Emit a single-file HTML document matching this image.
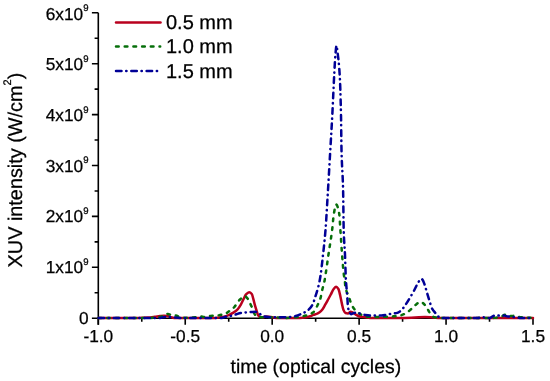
<!DOCTYPE html>
<html><head><meta charset="utf-8">
<style>
html,body{margin:0;padding:0;background:#fff;}
body{width:550px;height:381px;overflow:hidden;}
svg{display:block;}
text{font-family:"Liberation Sans",Arial,sans-serif;fill:#000;stroke:#000;stroke-width:0.25px;text-rendering:geometricPrecision;}
.tl{font-size:17.3px;}
.sup{font-size:9.6px;}
.ti{font-size:19.85px;}
.lg{font-size:20px;}
</style></head><body>
<svg width="550" height="381" viewBox="0 0 550 381">
<g fill="none" stroke="#000" stroke-width="1.6">
<path d="M98.3,12.8V324.8M98.3,318.2H533"/>
<path d="M91.9,318.20H98.3M91.9,267.30H98.3M91.9,216.40H98.3M91.9,165.50H98.3M91.9,114.60H98.3M91.9,63.70H98.3M91.9,12.80H98.3M94.6,292.75H98.3M94.6,241.85H98.3M94.6,190.95H98.3M94.6,140.05H98.3M94.6,89.15H98.3M94.6,38.25H98.3M98.30,318.2V324.8M185.24,318.2V324.8M272.18,318.2V324.8M359.12,318.2V324.8M446.06,318.2V324.8M533.00,318.2V324.8M141.77,318.2V321.7M228.71,318.2V321.7M315.65,318.2V321.7M402.59,318.2V321.7M489.53,318.2V321.7"/>
</g>
<g class="tl">
<text x="88.5" y="323.60" text-anchor="end">0</text>
<text x="88.5" y="272.95" text-anchor="end">1x10<tspan class="sup" dy="-8.4">9</tspan></text>
<text x="88.5" y="222.30" text-anchor="end">2x10<tspan class="sup" dy="-8.4">9</tspan></text>
<text x="88.5" y="171.65" text-anchor="end">3x10<tspan class="sup" dy="-8.4">9</tspan></text>
<text x="88.5" y="121.00" text-anchor="end">4x10<tspan class="sup" dy="-8.4">9</tspan></text>
<text x="88.5" y="70.35" text-anchor="end">5x10<tspan class="sup" dy="-8.4">9</tspan></text>
<text x="88.5" y="19.70" text-anchor="end">6x10<tspan class="sup" dy="-8.4">9</tspan></text>
<text x="98.30" y="341.8" text-anchor="middle">-1.0</text>
<text x="185.24" y="341.8" text-anchor="middle">-0.5</text>
<text x="272.18" y="341.8" text-anchor="middle">0.0</text>
<text x="359.12" y="341.8" text-anchor="middle">0.5</text>
<text x="446.06" y="341.8" text-anchor="middle">1.0</text>
<text x="533.00" y="341.8" text-anchor="middle">1.5</text>
</g>
<text class="ti" x="230.5" y="372.5" style="font-size:19.45px">time (optical cycles)</text>
<text class="ti" transform="translate(21.8,267.4) rotate(-90)">XUV intensity (W/cm<tspan dy="-10.4" style="font-size:11px">2</tspan><tspan dy="10.4">)</tspan></text>
<g fill="none" stroke-width="2.5" stroke-linejoin="round" stroke-linecap="round">
<path stroke="#b9001e" d="M98.50,317.90 C111.67,317.90 124.83,317.90 138.00,317.90 C141.33,317.90 144.67,317.70 148.00,317.50 C150.33,317.36 152.67,317.00 155.00,316.70 C156.67,316.49 158.33,316.16 160.00,316.00 C161.33,315.87 162.67,315.70 164.00,315.70 C165.17,315.70 166.33,315.84 167.50,316.00 C168.67,316.16 169.83,316.76 171.00,317.10 C172.00,317.39 173.00,317.90 174.00,317.90 C187.67,317.90 201.33,317.90 215.00,317.90 C217.00,317.90 219.00,317.50 221.00,317.20 C222.33,317.00 223.67,316.75 225.00,316.40 C226.40,316.03 227.80,315.42 229.20,314.80 C230.60,314.18 232.00,313.47 233.40,312.60 C234.80,311.73 236.20,310.82 237.60,309.40 C238.63,308.35 239.67,306.66 240.70,304.90 C241.60,303.37 242.50,301.18 243.40,299.40 C244.27,297.69 245.13,295.31 246.00,294.40 C247.03,293.31 248.07,292.20 249.10,292.20 C250.00,292.20 250.90,292.94 251.80,294.00 C252.30,294.59 252.80,297.12 253.30,298.90 C253.83,300.80 254.37,303.30 254.90,305.20 C255.43,307.10 255.97,308.77 256.50,310.40 C257.03,312.03 257.57,314.14 258.10,315.00 C258.67,315.92 259.23,316.72 259.80,316.90 C260.53,317.14 261.27,317.30 262.00,317.30 C263.33,317.30 264.67,316.60 266.00,316.60 C267.67,316.60 269.33,316.75 271.00,316.90 C272.67,317.05 274.33,317.90 276.00,317.90 C284.00,317.90 292.00,317.90 300.00,317.90 C302.07,317.90 304.13,317.60 306.20,317.30 C307.47,317.11 308.73,316.71 310.00,316.30 C311.13,315.93 312.27,315.30 313.40,314.90 C314.50,314.52 315.60,314.33 316.70,313.90 C317.67,313.52 318.63,313.00 319.60,312.30 C320.53,311.63 321.47,310.60 322.40,309.40 C323.33,308.20 324.27,306.32 325.20,304.70 C326.17,303.02 327.13,301.26 328.10,299.50 C329.03,297.80 329.97,296.05 330.90,294.30 C331.83,292.55 332.77,290.14 333.70,289.00 C334.50,288.02 335.30,286.80 336.10,286.80 C336.87,286.80 337.63,287.81 338.40,289.00 C339.03,289.98 339.67,293.36 340.30,296.00 C340.87,298.36 341.43,301.66 342.00,304.10 C342.50,306.25 343.00,308.89 343.50,310.00 C344.17,311.48 344.83,312.80 345.50,313.00 C346.33,313.25 347.17,313.40 348.00,313.40 C348.87,313.40 349.73,311.70 350.60,311.70 C351.37,311.70 352.13,312.22 352.90,312.60 C353.87,313.08 354.83,314.04 355.80,314.60 C356.87,315.22 357.93,315.91 359.00,316.20 C361.10,316.77 363.20,316.99 365.30,317.30 C366.87,317.53 368.43,317.90 370.00,317.90 C380.00,317.90 390.00,317.90 400.00,317.90 C405.00,317.90 410.00,317.66 415.00,317.50 C418.33,317.39 421.67,317.10 425.00,317.10 C427.67,317.10 430.33,317.36 433.00,317.50 C435.33,317.62 437.67,317.90 440.00,317.90 C471.00,317.90 502.00,317.90 533.00,317.90"/>
<path stroke="#066f0a" stroke-dasharray="2.7 6" d="M98.50,317.90 C115.67,317.90 132.83,317.90 150.00,317.90 C153.33,317.90 156.67,317.55 160.00,317.00 C161.67,316.72 163.33,314.96 165.00,314.50 C166.00,314.22 167.00,313.90 168.00,313.90 C169.00,313.90 170.00,314.66 171.00,315.00 C171.83,315.28 172.67,315.80 173.50,315.80 C174.33,315.80 175.17,315.50 176.00,315.50 C177.00,315.50 178.00,316.53 179.00,316.80 C181.00,317.34 183.00,317.90 185.00,317.90 C188.33,317.90 191.67,317.54 195.00,317.20 C196.67,317.03 198.33,316.40 200.00,316.40 C201.67,316.40 203.33,317.00 205.00,317.00 C206.83,317.00 208.67,316.19 210.50,316.00 C212.90,315.75 215.30,315.77 217.70,315.50 C218.80,315.38 219.90,315.06 221.00,314.80 C222.67,314.40 224.33,314.08 226.00,313.40 C227.40,312.83 228.80,311.46 230.20,310.40 C231.60,309.34 233.00,308.51 234.40,307.00 C235.37,305.96 236.33,303.83 237.30,302.60 C238.30,301.32 239.30,300.15 240.30,299.30 C241.83,298.00 243.37,296.20 244.90,296.20 C246.00,296.20 247.10,297.90 248.20,299.40 C248.80,300.22 249.40,301.81 250.00,303.10 C250.77,304.75 251.53,306.43 252.30,308.30 C252.83,309.60 253.37,311.36 253.90,312.50 C254.40,313.57 254.90,314.68 255.40,315.20 C256.10,315.93 256.80,316.44 257.50,316.70 C258.33,317.00 259.17,317.30 260.00,317.30 C263.33,317.30 266.67,317.30 270.00,317.30 C275.00,317.30 280.00,317.90 285.00,317.90 C288.57,317.90 292.13,317.60 295.70,317.30 C298.17,317.09 300.63,316.70 303.10,316.20 C305.20,315.78 307.30,315.10 309.40,314.30 C310.57,313.86 311.73,313.45 312.90,312.60 C314.17,311.68 315.43,309.25 316.70,307.00 C317.40,305.76 318.10,304.15 318.80,302.50 C319.37,301.17 319.93,299.97 320.50,298.10 C321.13,296.01 321.77,291.96 322.40,289.30 C323.03,286.64 323.67,284.98 324.30,282.00 C324.70,280.12 325.10,277.50 325.50,275.00 C326.47,268.96 327.43,261.59 328.40,255.00 C329.63,246.59 330.87,239.84 332.10,230.10 C332.70,225.36 333.30,216.95 333.90,213.60 C334.67,209.33 335.43,204.60 336.20,204.60 C337.20,204.60 338.20,208.18 339.20,213.60 C339.60,215.77 340.00,224.44 340.40,230.10 C340.97,238.12 341.53,247.83 342.10,255.00 C342.70,262.59 343.30,270.71 343.90,275.00 C344.20,277.14 344.50,277.60 344.80,280.00 C344.97,281.33 345.13,285.23 345.30,286.30 C345.80,289.51 346.30,290.56 346.80,292.00 C347.37,293.63 347.93,294.45 348.50,295.90 C349.20,297.69 349.90,300.31 350.60,302.00 C351.63,304.50 352.67,306.91 353.70,308.30 C354.77,309.73 355.83,310.59 356.90,311.50 C358.30,312.70 359.70,313.94 361.10,314.60 C363.20,315.59 365.30,316.51 367.40,316.70 C369.33,316.87 371.27,317.00 373.20,317.00 C377.73,317.00 382.27,316.92 386.80,316.80 C389.20,316.74 391.60,316.51 394.00,316.30 C395.93,316.13 397.87,315.96 399.80,315.60 C401.90,315.21 404.00,314.22 406.10,313.10 C407.77,312.21 409.43,310.62 411.10,309.20 C412.80,307.75 414.50,305.64 416.20,304.40 C417.63,303.35 419.07,301.80 420.50,301.80 C422.10,301.80 423.70,303.71 425.30,305.40 C426.33,306.49 427.37,308.84 428.40,310.50 C429.47,312.21 430.53,314.60 431.60,315.50 C432.57,316.32 433.53,316.98 434.50,317.20 C436.33,317.61 438.17,317.90 440.00,317.90 C457.67,317.90 475.33,317.90 493.00,317.90 C495.67,317.90 498.33,317.41 501.00,316.80 C502.33,316.49 503.67,314.95 505.00,314.80 C506.00,314.69 507.00,314.60 508.00,314.60 C509.00,314.60 510.00,316.00 511.00,316.00 C512.33,316.00 513.67,315.80 515.00,315.80 C516.33,315.80 517.67,316.84 519.00,317.00 C523.67,317.56 528.33,317.60 533.00,317.90"/>
<path stroke="#000096" stroke-dasharray="5.5 4.7 0.3 4.8" d="M98.50,317.90 C119.00,317.90 139.50,317.90 160.00,317.90 C161.67,317.90 163.33,316.90 165.00,316.90 C166.67,316.90 168.33,316.95 170.00,317.00 C173.33,317.10 176.67,317.90 180.00,317.90 C194.00,317.90 208.00,317.90 222.00,317.90 C223.00,317.90 224.00,317.13 225.00,316.90 C226.73,316.49 228.47,316.36 230.20,316.00 C231.97,315.63 233.73,315.10 235.50,314.60 C237.23,314.11 238.97,313.29 240.70,313.00 C242.47,312.71 244.23,312.56 246.00,312.40 C247.73,312.24 249.47,312.10 251.20,312.00 C252.60,311.92 254.00,311.80 255.40,311.80 C256.47,311.80 257.53,312.24 258.60,312.70 C259.47,313.08 260.33,314.39 261.20,315.00 C261.87,315.47 262.53,316.01 263.20,316.20 C265.00,316.71 266.80,317.03 268.60,317.10 C271.63,317.23 274.67,317.30 277.70,317.30 C281.33,317.30 284.97,317.23 288.60,317.10 C290.97,317.02 293.33,316.52 295.70,316.00 C297.47,315.61 299.23,314.84 301.00,314.10 C302.40,313.51 303.80,312.83 305.20,312.00 C306.60,311.17 308.00,310.28 309.40,308.90 C310.57,307.75 311.73,306.21 312.90,303.90 C313.70,302.32 314.50,299.16 315.30,296.70 C316.10,294.24 316.90,292.02 317.70,289.10 C318.33,286.79 318.97,284.21 319.60,281.00 C319.93,279.31 320.27,277.27 320.60,275.00 C321.40,269.54 322.20,262.27 323.00,255.00 C323.83,247.43 324.67,240.31 325.50,230.00 C326.13,222.16 326.77,210.41 327.40,200.00 C328.37,184.11 329.33,166.80 330.30,150.00 C330.97,138.41 331.63,127.75 332.30,115.00 C332.93,102.89 333.57,86.68 334.20,75.00 C334.60,67.62 335.00,59.50 335.40,55.00 C335.77,50.88 336.13,45.60 336.50,45.60 C336.83,45.60 337.17,49.43 337.50,52.00 C338.23,57.65 338.97,63.05 339.70,75.00 C340.13,82.06 340.57,95.34 341.00,115.00 C341.17,122.56 341.33,143.31 341.50,150.00 C342.03,171.42 342.57,169.17 343.10,190.00 C343.30,197.81 343.50,223.60 343.70,230.00 C344.13,243.88 344.57,245.04 345.00,255.00 C345.30,261.89 345.60,274.98 345.90,280.00 C346.07,282.79 346.23,284.20 346.40,286.30 C346.73,290.50 347.07,294.46 347.40,298.90 C347.60,301.56 347.80,306.12 348.00,307.30 C348.50,310.25 349.00,311.42 349.50,312.30 C350.03,313.24 350.57,314.20 351.10,314.20 C351.80,314.20 352.50,313.51 353.20,313.30 C354.07,313.04 354.93,312.70 355.80,312.70 C357.20,312.70 358.60,313.27 360.00,313.60 C361.77,314.02 363.53,314.78 365.30,315.00 C367.40,315.26 369.50,315.50 371.60,315.50 C374.87,315.50 378.13,315.50 381.40,315.50 C383.50,315.50 385.60,314.86 387.70,314.50 C389.33,314.22 390.97,313.85 392.60,313.60 C393.83,313.41 395.07,313.36 396.30,313.10 C397.77,312.79 399.23,311.95 400.70,310.90 C402.17,309.85 403.63,307.44 405.10,305.40 C406.57,303.36 408.03,300.91 409.50,298.50 C410.97,296.09 412.43,293.59 413.90,290.90 C415.37,288.21 416.83,284.59 418.30,282.30 C418.97,281.26 419.63,280.18 420.30,279.60 C420.70,279.25 421.10,278.80 421.50,278.80 C421.90,278.80 422.30,279.45 422.70,280.00 C423.33,280.87 423.97,282.83 424.60,284.60 C425.47,287.03 426.33,290.51 427.20,293.40 C428.03,296.18 428.87,298.92 429.70,301.60 C430.33,303.64 430.97,306.29 431.60,307.60 C432.80,310.07 434.00,311.26 435.20,312.80 C436.30,314.21 437.40,315.98 438.50,316.60 C439.67,317.26 440.83,317.90 442.00,317.90 C454.00,317.90 466.00,317.90 478.00,317.90 C479.33,317.90 480.67,316.90 482.00,316.90 C483.33,316.90 484.67,317.90 486.00,317.90 C487.33,317.90 488.67,317.90 490.00,317.90 C491.33,317.90 492.67,315.89 494.00,315.80 C496.00,315.67 498.00,315.60 500.00,315.60 C501.33,315.60 502.67,315.60 504.00,315.60 C505.33,315.60 506.67,316.31 508.00,316.50 C509.67,316.73 511.33,316.81 513.00,317.00 C515.33,317.26 517.67,317.90 520.00,317.90 C524.33,317.90 528.67,317.90 533.00,317.90"/>
<path stroke="#b9001e" d="M116,22.4H160.5"/>
<path stroke="#066f0a" stroke-dasharray="2.7 6" d="M116,46.5H160.2"/>
<path stroke="#000096" stroke-dasharray="5.5 4.7 0.3 4.8" d="M116,71H158"/>
</g>
<g class="lg">
<text x="166" y="28.9">0.5 mm</text>
<text x="166" y="53.3">1.0 mm</text>
<text x="166" y="77.8">1.5 mm</text>
</g>
</svg>
</body></html>
